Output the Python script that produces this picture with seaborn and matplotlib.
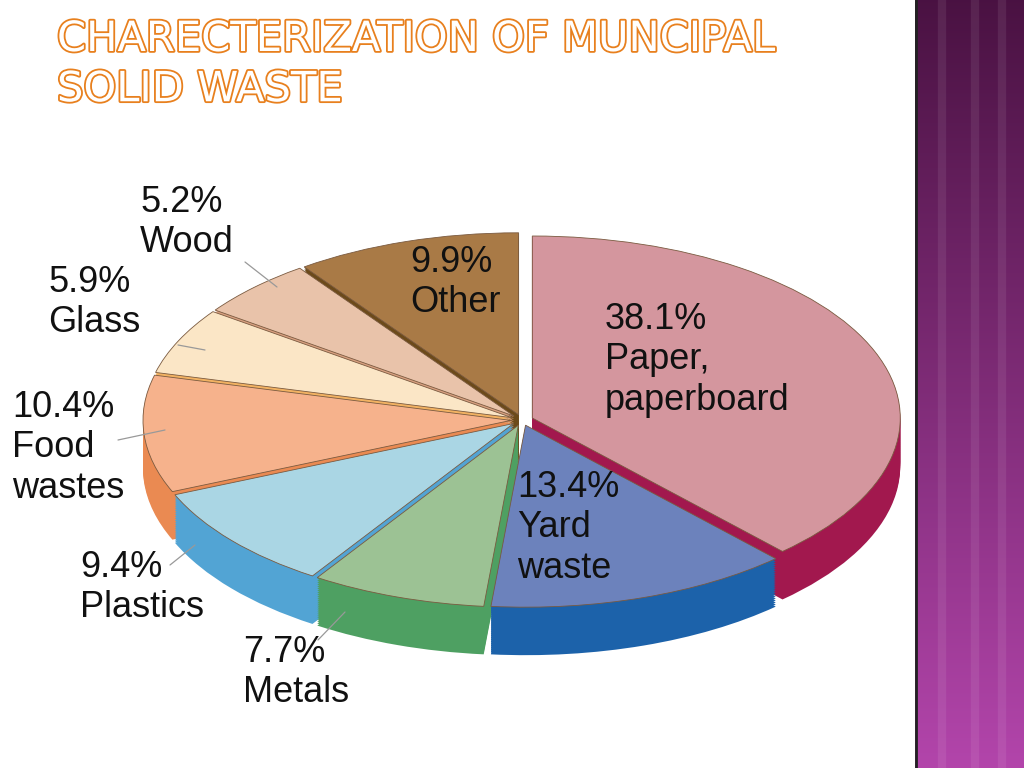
import numpy as np
import matplotlib.pyplot as plt
import matplotlib.patheffects as pe
from matplotlib.transforms import Affine2D
import seaborn as sns

sns.set_theme(style="white")
plt.rcParams['font.family'] = ['Liberation Sans', 'DejaVu Sans']

# data
categories = ["Paper,\npaperboard", "Yard\nwaste", "Metals", "Plastics",
              "Food\nwastes", "Glass", "Wood", "Other"]
shares = [38.1, 13.4, 7.7, 9.4, 10.4, 5.9, 5.2, 9.9]
top_colors = ["#d4969e", "#6c82bc", "#9cc294", "#aad6e4",
              "#f6b28c", "#fbe6c6", "#e9c3aa", "#a97a46"]
side_colors = ["#a2184e", "#1c62aa", "#4ea062", "#52a4d4",
               "#ea8a52", "#f2b262", "#d8a080", "#6c4a1a"]
explode = [0.03, 0.03, 0.03, 0.03, 0.03, 0.03, 0.03, 0.03]

fig = plt.figure(figsize=(10.24, 7.68), dpi=100)
fig.patch.set_facecolor("white")
ax = fig.add_axes([0, 0, 1, 1])

# pie geometry in pixel space (y measured from bottom)
cx, cy, rx, ry = 522, 768 - 420, 368, 182
depth = 48 / ry
to_px = Affine2D().scale(rx, ry).translate(cx, cy) + ax.transData

for k in np.linspace(depth, 0.005, 24):
    wedges, _ = ax.pie(shares, colors=side_colors, startangle=90, counterclock=False,
                       explode=explode, center=(0, -k), normalize=True,
                       wedgeprops=dict(linewidth=0))
    for w in wedges:
        w.set_transform(to_px)

wedges, _ = ax.pie(shares, colors=top_colors, startangle=90, counterclock=False,
                   explode=explode, center=(0, 0), normalize=True,
                   wedgeprops=dict(linewidth=0.6, edgecolor="#7a5a40"))
for w in wedges:
    w.set_transform(to_px)

ax.set_aspect("auto")
ax.set_xlim(0, 1024)
ax.set_ylim(0, 768)
ax.axis("off")

# labels (pixel positions from top-left)
label_pos = [(605, 302), (517, 470), (243, 635), (80, 550),
             (12, 390), (48, 265), (140, 185), (410, 245)]
for cat, val, (x, y) in zip(categories, shares, label_pos):
    ax.text(x, 768 - y, f"{val}%\n{cat}", fontsize=26, ha="left", va="top",
            linespacing=1.2, color="#111111")

leaders = [((245, 262), (277, 287)), ((178, 345), (205, 350)),
           ((118, 440), (165, 430)), ((170, 565), (195, 545)),
           ((318, 640), (345, 612))]
for (x0, y0), (x1, y1) in leaders:
    ax.plot([x0, x1], [768 - y0, 768 - y1], color="#999999", lw=0.9)

# title
fig.text(57 / 1024, 1 - 18 / 768, "CHARECTERIZATION OF MUNCIPAL\nSOLID WASTE",
         fontsize=30, ha="left", va="top", color="white", linespacing=1.25,
         family=["DejaVu Sans"],
         path_effects=[pe.Stroke(linewidth=2.6, foreground="#e8801e"), pe.Normal()])

# purple band on the right
band = fig.add_axes([915 / 1024, 0, 109 / 1024, 1])
grad = np.linspace(0, 1, 256)[:, None]
cols = np.array([[0.29, 0.07, 0.26], [0.70, 0.27, 0.67]])
img = cols[0] + (cols[1] - cols[0]) * grad[:, :, None]
img = np.repeat(img, 40, axis=1)
band.imshow(img, aspect="auto", extent=(0, 1, 0, 1), origin="upper")
for xv in [0.25, 0.55, 0.8]:
    band.axvline(xv, color="white", alpha=0.08, lw=6)
band.axvline(0.01, color="#222222", lw=2)
band.axis("off")

fig.savefig("out.png", dpi=100)
